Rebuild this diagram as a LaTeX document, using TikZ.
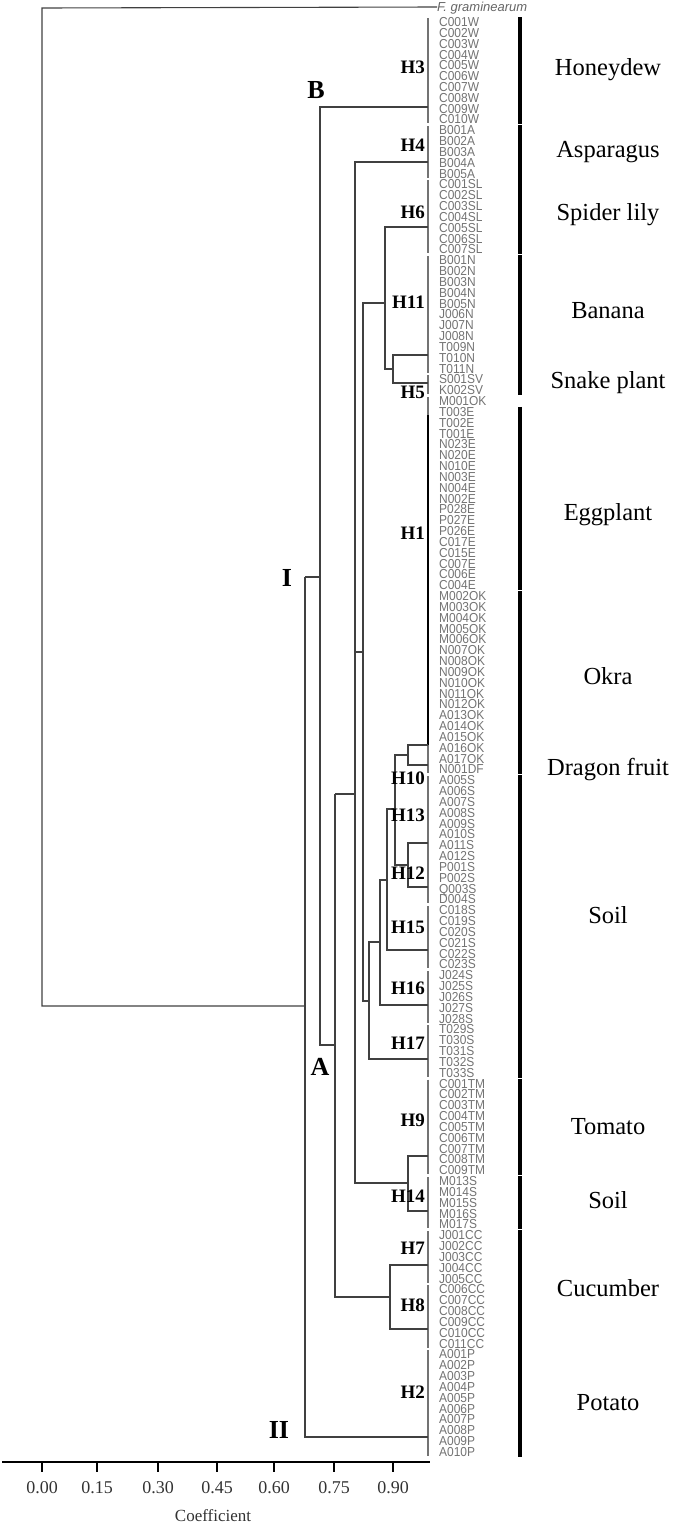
\documentclass[tikz,border=0pt]{standalone}
\usepackage{fontspec}
\setmainfont{Liberation Serif}
\newfontfamily\leaffont{Liberation Sans}
\begin{document}
\begin{tikzpicture}[x=1pt,y=-1pt,
  br/.style={draw=black!75,line width=1.1pt},
  leaf/.style={anchor=west,font=\leaffont\fontsize{13}{13}\selectfont,text=black!55,inner sep=0pt,xscale=0.92,text height=9pt,text depth=0pt},
  hl/.style={anchor=east,font=\bfseries\fontsize{19}{19}\selectfont,inner sep=0pt},
  big/.style={font=\bfseries\fontsize{26}{26}\selectfont,inner sep=0pt},
  grp/.style={font=\fontsize{24.5}{24.5}\selectfont,inner sep=0pt},
  bar/.style={line width=3.5pt,black},
  tick/.style={font=\fontsize{18}{18}\selectfont,text=black!80,inner sep=0pt}]
\useasboundingbox (0,0) rectangle (685,1526);
\def\Y#1{22+#1*10.833}
% leaves
\foreach \n [count=\i from 0] in {C001W,C002W,C003W,C004W,C005W,C006W,C007W,C008W,C009W,C010W,
B001A,B002A,B003A,B004A,B005A,
C001SL,C002SL,C003SL,C004SL,C005SL,C006SL,C007SL,
B001N,B002N,B003N,B004N,B005N,J006N,J007N,J008N,T009N,T010N,T011N,
S001SV,K002SV,M001OK,
T003E,T002E,T001E,N023E,N020E,N010E,N003E,N004E,N002E,P028E,P027E,P026E,C017E,C015E,C007E,C006E,C004E,
M002OK,M003OK,M004OK,M005OK,M006OK,N007OK,N008OK,N009OK,N010OK,N011OK,N012OK,A013OK,A014OK,A015OK,A016OK,A017OK,
N001DF,
A005S,A006S,A007S,A008S,A009S,A010S,A011S,A012S,P001S,P002S,Q003S,D004S,C018S,C019S,C020S,C021S,C022S,C023S,J024S,J025S,J026S,J027S,J028S,T029S,T030S,T031S,T032S,T033S,
C001TM,C002TM,C003TM,C004TM,C005TM,C006TM,C007TM,C008TM,C009TM,
M013S,M014S,M015S,M016S,M017S,
J001CC,J002CC,J003CC,J004CC,J005CC,C006CC,C007CC,C008CC,C009CC,C010CC,C011CC,
A001P,A002P,A003P,A004P,A005P,A006P,A007P,A008P,A009P,A010P}
  \node[leaf] (l\i) at (439,{\Y{\i}}) {\n};
% leaf spine segments
\foreach \s/\e in {0/9,10/14,15/21,22/32,33/34,35/69,70/81,82/87,88/92,93/97,98/106,107/111,112/116,117/122,123/132}
  \draw[black!55,line width=1.3pt] (428,{\Y{\s}-4}) -- (428,{\Y{\e}+4});
\draw[black,line width=1.3pt] (428,415) -- (428,745);
% outgroup
\node[anchor=west,font=\leaffont\itshape\fontsize{13}{13}\selectfont,text=black!60,inner sep=0pt,text height=9pt,text depth=0pt] (fg) at (437,7) {F. graminearum};
\draw[br] (fg.west) -- (42,8) -- (42,1006) -- (305,1006);
% tree
\draw[br] (305,577) -- (305,1437) -- (428,1437);
\draw[br] (305,577) -- (320,577);
\draw[br] (428,107) -- (320,107) -- (320,1045) -- (335,1045);
\draw[br] (335,794) -- (335,1297) -- (390,1297);
\draw[br] (428,1265) -- (390,1265) -- (390,1329) -- (428,1329);
\draw[br] (335,794) -- (355,794);
\draw[br] (428,162) -- (355,162) -- (355,1183) -- (408,1183);
\draw[br] (428,1156) -- (408,1156) -- (408,1211) -- (428,1211);
\draw[br] (355,652) -- (363,652);
\draw[br] (385,303) -- (363,303) -- (363,1001) -- (369,1001);
\draw[br] (428,227) -- (385,227) -- (385,369) -- (393,369);
\draw[br] (428,355) -- (393,355) -- (393,383) -- (428,383);
\draw[br] (428,1059) -- (369,1059) -- (369,942) -- (380,942);
\draw[br] (428,1005) -- (380,1005) -- (380,880) -- (387,880);
\draw[br] (428,950) -- (387,950) -- (387,809) -- (395,809);
\draw[br] (408,865) -- (395,865) -- (395,755) -- (408,755);
\draw[br] (428,843) -- (408,843) -- (408,887) -- (428,887);
\draw[br] (428,745) -- (408,745) -- (408,765) -- (428,765);
% H labels
\foreach \t/\y in {H3/67,H4/145,H6/212,H11/302,H5/392,H1/533,H10/778,H13/815,H12/873,H15/927,H16/988,H17/1043,H9/1120,H14/1196,H7/1248,H8/1305,H2/1392}
  \node[hl] (h\t) at (425,\y) {\t};
\node[big] (nB) at (316,90) {B};
\node[big] (nI) at (287,578) {I};
\node[big] (nA) at (320,1067) {A};
\node[big] (nII) at (279,1430) {II};
% bars and group names
\foreach \s/\e in {0/9,10/14,15/21,22/32,33/34,36/52,53/68,69/69,70/97,98/106,107/111,112/122,123/132}
  \draw[bar] (520,{\Y{\s}-5}) -- (520,{\Y{\e}+5});
\foreach \t/\y in {Honeydew/70,Asparagus/152,Spider lily/215,Banana/311,Snake plant/383,Eggplant/515,Okra/676,Dragon fruit/770,Soil/915,Tomato/1127,Soil/1200,Cucumber/1288,Potato/1403}
  \node[grp] at (608,\y) {\t};
% axis
\draw[black,line width=1.3pt] (2,1462) -- (430,1462);
\foreach \x/\l in {42/0.00,97/0.15,158/0.30,217/0.45,274/0.60,334/0.75,393/0.90}{
  \draw[black,line width=1.3pt] (\x,1462) -- (\x,1472);
  \node[tick] at (\x,1488) {\l};}
\node[font=\fontsize{17}{17}\selectfont,text=black!80,inner sep=0pt] (coef) at (213,1516) {Coefficient};
\end{tikzpicture}
\end{document}
